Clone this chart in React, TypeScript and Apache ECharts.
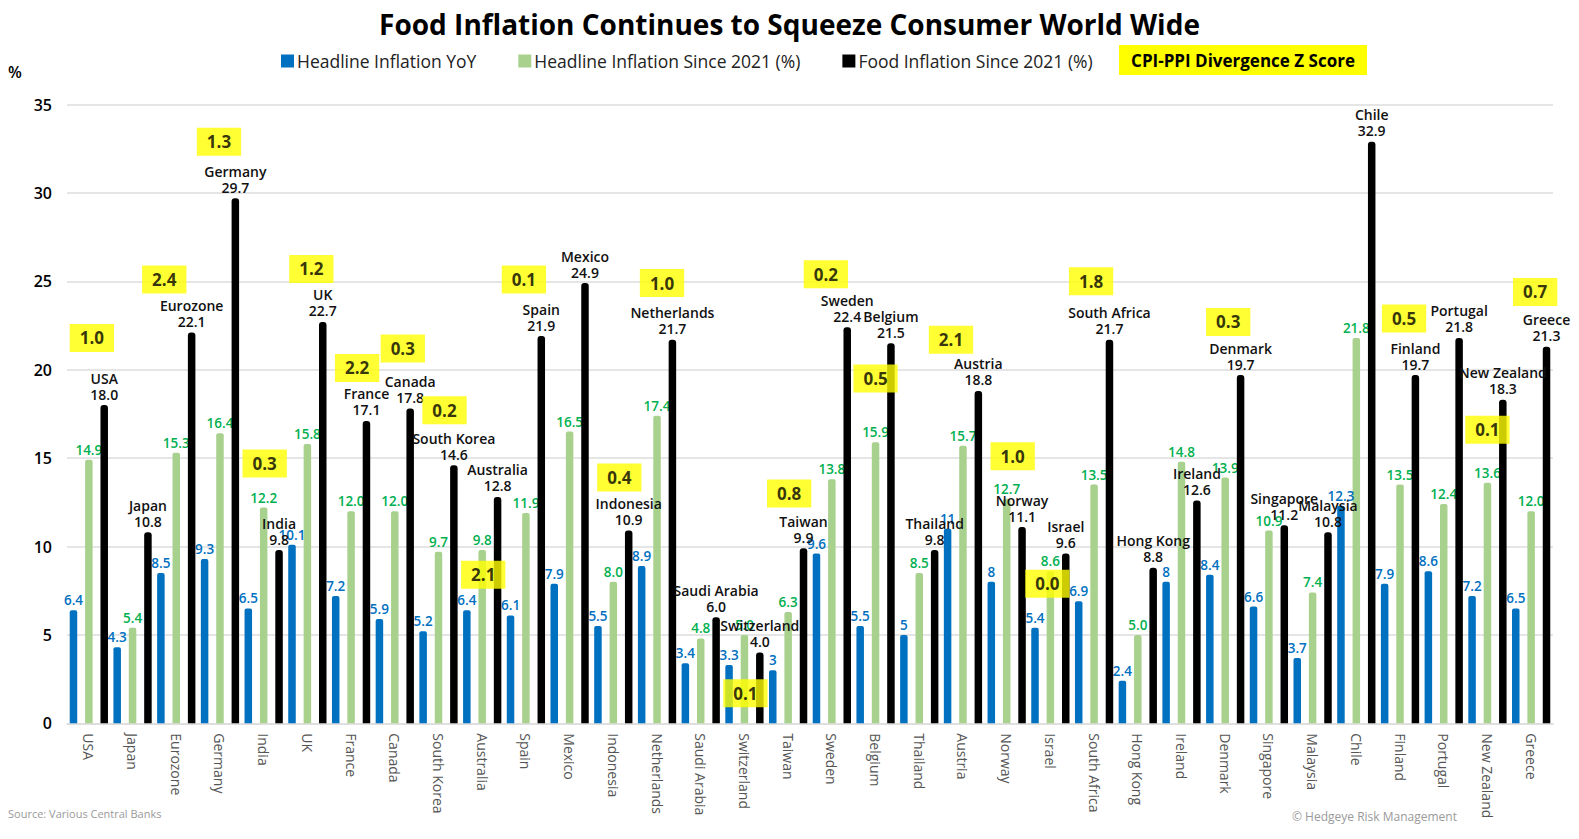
import React, { useEffect, useRef } from "react";
import * as echarts from "echarts";

// Country order along the category axis
const countries = [
  "USA", "Japan", "Eurozone", "Germany", "India", "UK", "France", "Canada",
  "South Korea", "Australia", "Spain", "Mexico", "Indonesia", "Netherlands",
  "Saudi Arabia", "Switzerland", "Taiwan", "Sweden", "Belgium", "Thailand",
  "Austria", "Norway", "Israel", "South Africa", "Hong Kong", "Ireland",
  "Denmark", "Singapore", "Malaysia", "Chile", "Finland", "Portugal",
  "New Zealand", "Greece",
];

// Headline CPI, year over year (%)
const headlineYoY = [
  6.4, 4.3, 8.5, 9.3, 6.5, 10.1, 7.2, 5.9, 5.2, 6.4, 6.1, 7.9, 5.5, 8.9,
  3.4, 3.3, 3, 9.6, 5.5, 5, 11, 8, 5.4, 6.9, 2.4, 8, 8.4, 6.6, 3.7, 12.3,
  7.9, 8.6, 7.2, 6.5,
];

// Cumulative headline inflation since 2021 (%)
const headlineSince2021 = [
  14.9, 5.4, 15.3, 16.4, 12.2, 15.8, 12.0, 12.0, 9.7, 9.8, 11.9, 16.5, 8.0,
  17.4, 4.8, 5.0, 6.3, 13.8, 15.9, 8.5, 15.7, 12.7, 8.6, 13.5, 5.0, 14.8,
  13.9, 10.9, 7.4, 21.8, 13.5, 12.4, 13.6, 12.0,
];

// Cumulative food inflation since 2021 (%)
const foodSince2021 = [
  18.0, 10.8, 22.1, 29.7, 9.8, 22.7, 17.1, 17.8, 14.6, 12.8, 21.9, 24.9, 10.9,
  21.7, 6.0, 4.0, 9.9, 22.4, 21.5, 9.8, 18.8, 11.1, 9.6, 21.7, 8.8, 12.6,
  19.7, 11.2, 10.8, 32.9, 19.7, 21.8, 18.3, 21.3,
];

// CPI-PPI divergence z score (null where not reported)
const zScores: (number | null)[] = [
  1.0, null, 2.4, 1.3, 0.3, 1.2, 2.2, 0.3, 0.2, 2.1, 0.1, null, 0.4, 1.0,
  null, 0.1, 0.8, 0.2, 0.5, null, 2.1, 1.0, 0.0, 1.8, null, null, 0.3, null,
  null, null, 0.5, null, 0.1, 0.7,
];

// Where each z-score tag sits: height on the % axis, and sideways nudge in px
const zTagLevel = [
  21.8, 0, 25.1, 32.9, 14.7, 25.7, 20.1, 21.2, 17.7, 8.4, 25.1, 0, 13.9, 24.9,
  0, 1.7, 13.0, 25.4, 19.5, 0, 21.7, 15.1, 7.9, 25.0, 0, 0, 22.7, 0, 0, 0,
  22.9, 0, 16.6, 24.4,
];
const zTagNudge = [
  3, 0, -12, -1, 1, 4, 6, 8, 6, 1, -2, 0, 6, 5, 0, 1, 1, -6, 0, 0, -12, 6, -3,
  -3, 0, 0, 3, 0, 0, 0, 4, 0, 0, 4,
];

const FONT = "'Open Sans', 'Noto Sans', sans-serif";
const BLUE = "#0070C0";
const GREEN_BAR = "#A9D18E";
const GREEN_TEXT = "#00B050";
const GRID = "#dcdcdc";

export default function App() {
  const ref = useRef<HTMLDivElement>(null);

  useEffect(() => {
    if (!ref.current) return;
    const chart = echarts.init(ref.current, null, { renderer: "svg" });

    const zData = zScores
      .map((z, i) =>
        z === null
          ? null
          : {
              value: [i, zTagLevel[i]],
              score: z,
              label: { offset: [zTagNudge[i], 0] },
            }
      )
      .filter((d) => d !== null);

    const valueLabel = (color: string, digits: number | null) => ({
      show: true,
      position: "top",
      distance: 3,
      color,
      fontFamily: FONT,
      fontSize: 13.5,
      fontWeight: 600,
      formatter: (p: any) =>
        digits === null ? String(p.value) : Number(p.value).toFixed(digits),
    });

    chart.setOption({
      animation: false,
      backgroundColor: "#ffffff",
      textStyle: { fontFamily: FONT },
      title: {
        text: "Food Inflation Continues to Squeeze Consumer World Wide",
        left: "center",
        top: 5,
        textStyle: {
          fontFamily: FONT,
          fontSize: 28,
          fontWeight: "bold",
          color: "#000",
        },
      },
      legend: {
        data: [
          "Headline Inflation YoY",
          "Headline Inflation Since 2021 (%)",
          "Food Inflation Since 2021 (%)",
        ],
        left: 276,
        top: 47,
        icon: "rect",
        itemWidth: 13,
        itemHeight: 13,
        itemGap: 42,
        selectedMode: false,
        textStyle: {
          fontFamily: FONT,
          fontSize: 17.5,
          color: "#222",
          padding: [0, 0, 0, -2],
        },
      },
      graphic: [
        {
          type: "group",
          left: 1119,
          top: 45,
          children: [
            {
              type: "rect",
              shape: { x: 0, y: 0, width: 248, height: 30 },
              style: { fill: "#FFFF00" },
            },
            {
              type: "text",
              x: 124,
              y: 15,
              style: {
                text: "CPI-PPI Divergence Z Score",
                fill: "#000",
                font: `bold 17px ${FONT}`,
                textAlign: "center",
                textVerticalAlign: "middle",
              },
            },
          ],
        },
        {
          type: "text",
          left: 8,
          top: 64,
          style: { text: "%", fill: "#000", font: `600 16px ${FONT}` },
        },
        {
          type: "text",
          left: 8,
          top: 808,
          style: {
            text: "Source: Various Central Banks",
            fill: "#9a9a9a",
            font: `11px ${FONT}`,
          },
        },
        {
          type: "text",
          left: 1292,
          top: 810,
          style: {
            text: "© Hedgeye Risk Management",
            fill: "#9a9a9a",
            font: `12px ${FONT}`,
          },
        },
      ],
      grid: { left: 67, right: 26, top: 104.5, bottom: 115.7 },
      xAxis: {
        type: "category",
        data: countries,
        axisLine: { lineStyle: { color: GRID, width: 1.5 } },
        axisTick: { length: 5, lineStyle: { color: GRID } },
        axisLabel: {
          rotate: -90,
          interval: 0,
          margin: 10,
          color: "#555",
          fontFamily: FONT,
          fontSize: 14,
        },
      },
      yAxis: {
        type: "value",
        min: 0,
        max: 35,
        interval: 5,
        axisLine: { show: false },
        axisTick: { show: false },
        axisLabel: {
          margin: 15,
          color: "#000",
          fontFamily: FONT,
          fontSize: 16,
          fontWeight: 600,
        },
        splitLine: { lineStyle: { color: GRID, width: 1.5 } },
      },
      series: [
        {
          name: "Headline Inflation YoY",
          type: "bar",
          data: headlineYoY,
          barWidth: 7.5,
          barGap: "105%",
          itemStyle: { color: BLUE, borderRadius: [2, 2, 0, 0] },
          label: valueLabel(BLUE, null),
          z: 2,
        },
        {
          name: "Headline Inflation Since 2021 (%)",
          type: "bar",
          data: headlineSince2021,
          barWidth: 7.5,
          barGap: "105%",
          itemStyle: { color: GREEN_BAR, borderRadius: [2, 2, 0, 0] },
          label: valueLabel(GREEN_TEXT, 1),
          z: 2,
        },
        {
          name: "Food Inflation Since 2021 (%)",
          type: "bar",
          data: foodSince2021,
          barWidth: 7.5,
          barGap: "105%",
          itemStyle: { color: "#000", borderRadius: [3, 3, 0, 0] },
          label: {
            show: true,
            position: "top",
            distance: 3,
            color: "#111",
            fontFamily: FONT,
            fontSize: 14,
            fontWeight: 600,
            lineHeight: 16,
            formatter: (p: any) =>
              `${countries[p.dataIndex]}\n${Number(p.value).toFixed(1)}`,
          },
          z: 3,
        },
        {
          name: "CPI-PPI Divergence Z Score",
          type: "scatter",
          data: zData,
          symbolSize: 1,
          itemStyle: { color: "rgba(0,0,0,0)" },
          z: 5,
          label: {
            show: true,
            position: "inside",
            backgroundColor: "#FFFF00",
            color: "#000",
            fontFamily: FONT,
            fontSize: 17,
            fontWeight: "bold",
            padding: [6, 10, 5, 10],
            formatter: (p: any) => Number(p.data.score).toFixed(1),
          },
        },
      ],
    });

    return () => chart.dispose();
  }, []);

  return (
    <div
      ref={ref}
      style={{ position: "fixed", left: 0, top: 0, width: 1579, height: 839 }}
    />
  );
}
